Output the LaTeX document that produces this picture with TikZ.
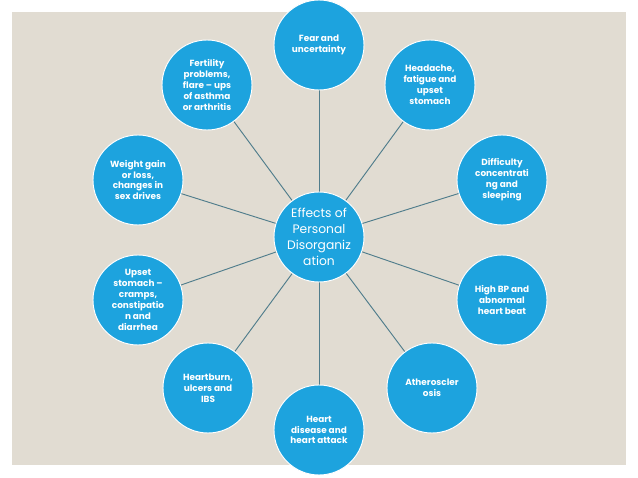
\documentclass[tikz,border=0pt]{standalone}
\usepackage{fontspec}
\setmainfont{Poppins}
\usepackage{tikz}
\usetikzlibrary{backgrounds}
\definecolor{paper}{RGB}{225,220,210}
\definecolor{bubble}{RGB}{29,163,222}
\definecolor{spoke}{RGB}{80,125,140}

\begin{document}
\begin{tikzpicture}[
  x = 0.03cm,
  y = -0.03cm,
  effect/.style = {
    draw = white,
    line width = 0.8pt,
    circle,
    fill = bubble,
    minimum size = 2.7cm,
    inner sep = 0pt,
    text = white,
    align = center,
    font = \fontsize{7.6}{9.3}\selectfont\bfseries,
  },
  hub/.style = {
    effect,
    font = \fontsize{10.5}{13.5}\selectfont,
  },
]

  \useasboundingbox (0,0) rectangle (638,478);

  %
  \node[hub] (hub) at (319,237) {Effects of\\Personal\\Disorganiz\\ation};

  \node[effect] (fear) at (319,45) {Fear and\\uncertainty};
  \node[effect] (head) at (430,85) {Headache,\\fatigue and\\upset\\stomach};
  \node[effect] (conc) at (502,180) {Difficulty\\concentrati\\ng and\\sleeping};
  \node[effect] (bp) at (502,300) {High BP and\\abnormal\\heart beat};
  \node[effect] (ath) at (432,388) {Atheroscler\\osis};
  \node[effect] (heart) at (319,430) {Heart\\disease and\\heart attack};
  \node[effect] (burn) at (208,388) {Heartburn,\\ulcers and\\IBS};
  \node[effect] (stom) at (138,300) {Upset\\stomach --\\cramps,\\constipatio\\n and\\diarrhea};
  \node[effect] (wgt) at (138,180) {Weight gain\\or loss,\\changes in\\sex drives};
  \node[effect] (fert) at (207,85) {Fertility\\problems,\\flare -- ups\\of asthma\\or arthritis};

  \begin{scope}[on background layer]
    \fill[paper] (12,12) rectangle (626,465);
    \foreach \n in {fear,head,conc,bp,ath,heart,burn,stom,wgt,fert}
      \draw[spoke, line width=0.8pt] (hub.center) -- (\n.center);
  \end{scope}

\end{tikzpicture}
\end{document}
